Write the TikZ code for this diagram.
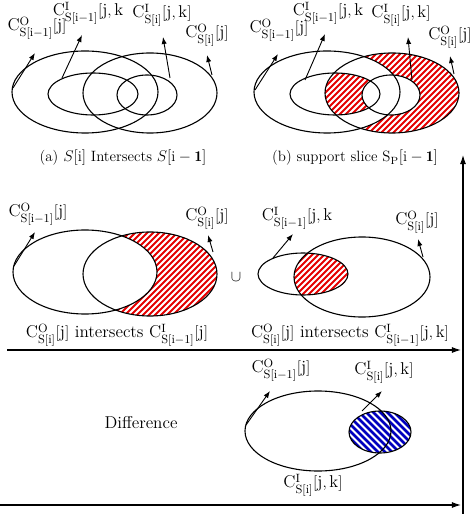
\documentclass[tikz,border=0pt]{standalone}
\usepackage{fontspec}
\usepackage{amsmath}
\usetikzlibrary{positioning,calc,arrows.meta}

\newcommand{\Cset}[3]{$\mathrm{C}^{\mathrm{#1}}_{\mathrm{S[#2]}}[\mathrm{#3}]$}
\newcommand{\Ccut}[2]{$\mathrm{C}^{\mathrm{#1}}_{\mathrm{S[#2]}}[\mathrm{j,k}$}

\begin{document}
\begin{tikzpicture}[x=0.77pt,y=-0.77pt,
    lbl/.style={font=\fontsize{13.2}{16}\selectfont,inner sep=0pt},
    captext/.style={font=\fontsize{11.5}{14}\selectfont,inner sep=0pt},
    ring/.style={line width=0.85pt},
    pointer/.style={-{Latex[length=5.4pt,width=4pt]},line width=0.7pt},
    axis/.style={-{Latex[length=7pt,width=4.6pt]},line width=0.8pt},
    redstripe/.style={red!90!black,line width=1.6pt},
    bluestripe/.style={blue!75!black,line width=2pt}]

\useasboundingbox (0,0) rectangle (474,514);

% (a) S[i] intersects S[i-1]
\draw[ring] (85,92) ellipse [x radius=73,y radius=41];
\draw[ring] (150,93) ellipse [x radius=67,y radius=40];
\draw[ring] (93,94) ellipse [x radius=45,y radius=21];
\draw[ring] (147,95) ellipse [x radius=30,y radius=20];

\node[lbl] (aO1) at (37,28) {\Cset{O}{i-1}{j}};
\node[lbl] (aI1) at (88,13) {\Ccut{I}{i-1}};
\node[lbl] (aI2) at (162,15) {\Cset{I}{i}{j,k}};
\node[lbl] (aO2) at (207,35) {\Cset{O}{i}{j}};

\coordinate (aO1s) at (13,88);  \coordinate (aO1t) at (35,53);
\coordinate (aI1s) at (62,78);  \coordinate (aI1t) at (82,35);
\coordinate (aI2s) at (170,78); \coordinate (aI2t) at (163,37);
\coordinate (aO2s) at (212,75); \coordinate (aO2t) at (207,55);
\draw[pointer] (aO1s) -- (aO1t);
\draw[pointer] (aI1s) -- (aI1t);
\draw[pointer] (aI2s) -- (aI2t);
\draw[pointer] (aO2s) -- (aO2t);

\node[captext] (capa) at (123,158) {(a) $S[\mathrm{i}]$ Intersects $S[\mathrm{i}-\mathbf{1}]$};

% (b) support slice
\begin{scope}[even odd rule]
  \clip (392,93) ellipse [x radius=67,y radius=40];
  \clip (230,40) rectangle (474,150)
        (327,92) ellipse [x radius=73,y radius=41]
        (335,94) ellipse [x radius=45,y radius=21];
  \clip (230,40) rectangle (474,150)
        (391,95) ellipse [x radius=29,y radius=20];
  \foreach \c in {300,306,...,600}
    \draw[redstripe] (\c,40) -- ++(-115,115);
\end{scope}
\draw[ring] (327,92) ellipse [x radius=73,y radius=41];
\draw[ring] (392,93) ellipse [x radius=67,y radius=40];
\draw[ring] (335,94) ellipse [x radius=45,y radius=21];
\draw[ring] (391,95) ellipse [x radius=29,y radius=20];

\node[lbl] (bO1) at (279,30) {\Cset{O}{i-1}{j}};
\node[lbl] (bI1) at (328,13) {\Ccut{I}{i-1}};
\node[lbl] (bI2) at (401,15) {\Cset{I}{i}{j,k}};
\node[lbl] (bO2) at (450,37) {\Cset{O}{i}{j}};

\coordinate (bO1s) at (255,90);  \coordinate (bO1t) at (278,54);
\coordinate (bI1s) at (305,80);  \coordinate (bI1t) at (325,34);
\coordinate (bI2s) at (412,80);  \coordinate (bI2t) at (408,37);
\coordinate (bO2s) at (454,74);  \coordinate (bO2t) at (450,56);
\draw[pointer] (bO1s) -- (bO1t);
\draw[pointer] (bI1s) -- (bI1t);
\draw[pointer] (bI2s) -- (bI2t);
\draw[pointer] (bO2s) -- (bO2t);

\node[captext] (capb) at (355,158) {(b) support slice $\mathrm{S}_{\mathrm{P}}[\mathrm{i}-\mathbf{1}]$};

% middle row, left
\begin{scope}[even odd rule]
  \clip (150,274) ellipse [x radius=67,y radius=42];
  \clip (0,220) rectangle (240,330)
        (85,272) ellipse [x radius=72,y radius=42];
  \foreach \c in {100,106,...,360}
    \draw[redstripe] (\c,220) -- ++(-110,110);
\end{scope}
\draw[ring] (85,272) ellipse [x radius=72,y radius=42];
\draw[ring] (150,274) ellipse [x radius=67,y radius=42];

\node[lbl] (cO1) at (38,214) {\Cset{O}{i-1}{j}};
\node[lbl] (cO2) at (207,218) {\Cset{O}{i}{j}};
\coordinate (cO1s) at (14,266);  \coordinate (cO1t) at (35,232);
\coordinate (cO2s) at (213,252); \coordinate (cO2t) at (208,235);
\draw[pointer] (cO1s) -- (cO1t);
\draw[pointer] (cO2s) -- (cO2t);

\node[lbl] (union) at (236,277) {$\cup$};

% middle row, right
\begin{scope}
  \clip (303,274) ellipse [x radius=45,y radius=21];
  \clip (362,277) ellipse [x radius=68,y radius=40];
  \foreach \c in {280,286,...,420}
    \draw[redstripe] (\c,245) -- ++(-60,60);
\end{scope}
\draw[ring] (303,274) ellipse [x radius=45,y radius=21];
\draw[ring] (362,277) ellipse [x radius=68,y radius=40];

\node[lbl] (dI1) at (297,218) {\Ccut{I}{i-1}};
\node[lbl] (dO2) at (417,222) {\Cset{O}{i}{j}};
\coordinate (dI1s) at (273,258); \coordinate (dI1t) at (293,234);
\coordinate (dO2s) at (423,257); \coordinate (dO2t) at (418,239);
\draw[pointer] (dI1s) -- (dI1t);
\draw[pointer] (dO2s) -- (dO2t);

\node[lbl] (cCap) at (117,335) {\Cset{O}{i}{j} intersects \Cset{I}{i-1}{j}};
\node[lbl] (dCap) at (350,335) {\Cset{O}{i}{j} intersects \Cset{I}{i-1}{j,k}};

% axes
\coordinate (h1s) at (7,350);   \coordinate (h1e) at (461,350);
\coordinate (h2s) at (0,505);   \coordinate (h2e) at (461,505);
\coordinate (vs) at (463,514);  \coordinate (ve) at (463,155);
\draw[axis] (h1s) -- (h1e);
\draw[axis] (h2s) -- (h2e);
\draw[axis] (vs) -- (ve);

% difference
\begin{scope}
  \clip (380,432) ellipse [x radius=31,y radius=21];
  \foreach \c in {270,277,...,420}
    \draw[bluestripe] (\c,400) -- ++(70,70);
\end{scope}
\draw[ring] (318,431) ellipse [x radius=73,y radius=40];
\draw[ring] (380,432) ellipse [x radius=31,y radius=21];

\node[lbl] (eO1) at (281,370) {\Cset{O}{i-1}{j}};
\node[lbl] (eI1) at (384,372) {\Cset{I}{i}{j,k}};
\node[lbl] (eI2) at (313,485) {\Cset{I}{i}{j,k}};
\node[lbl] (diff) at (141,423) {Difference};

\coordinate (eO1s) at (246,425); \coordinate (eO1t) at (270,391);
\coordinate (eI1s) at (362,411); \coordinate (eI1t) at (382,391);
\draw[pointer] (eO1s) -- (eO1t);
\draw[pointer] (eI1s) -- (eI1t);

\end{tikzpicture}
\end{document}
